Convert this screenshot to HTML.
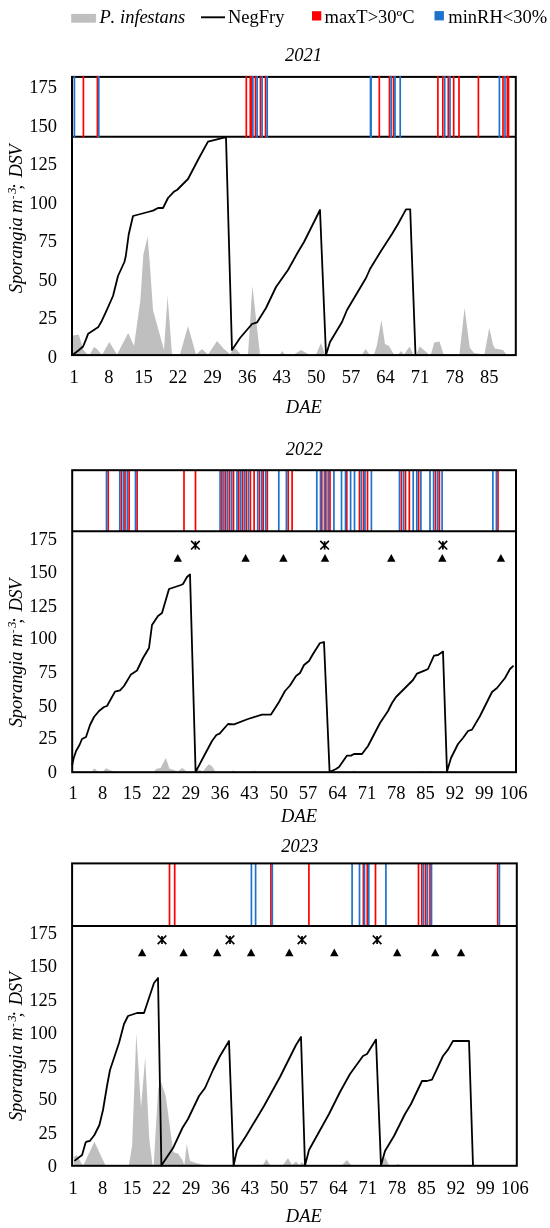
<!DOCTYPE html>
<html><head><meta charset="utf-8"><style>
html,body{margin:0;padding:0;background:#fff;width:550px;height:1228px;overflow:hidden}
svg{display:block}
.ax{font-family:"Liberation Serif", "Times New Roman", serif;font-size:18.5px;fill:#000}
.lg{font-family:"Liberation Serif", "Times New Roman", serif;font-size:18.5px;fill:#000}
.it{font-style:italic}
</style></head><body>
<svg width="550" height="1228" viewBox="0 0 550 1228">
<rect x="71.2" y="13.9" width="24.7" height="8.8" fill="#BFBFBF"/>
<text y="23" class="lg it"><tspan x="99.5">P</tspan><tspan x="110.5">.</tspan><tspan x="120">infe</tspan><tspan x="147.2">stans</tspan></text>
<line x1="201" y1="17.3" x2="225" y2="17.3" stroke="#000" stroke-width="1.9"/>
<text x="228" y="23" class="lg">NegFry</text>
<rect x="312" y="11.2" width="9.3" height="9.3" fill="#FF0000"/>
<text x="324.5" y="23" class="lg">maxT&gt;30ºC</text>
<rect x="434.5" y="11.1" width="9.4" height="9.3" fill="#1E72CD"/>
<text x="448.3" y="23" class="lg">minRH&lt;30%</text>
<polygon points="73.0,355.0 73.0,335.6 78.7,334.5 83.5,350.0 87.0,354.0 90.0,354.0 94.0,347.0 97.0,349.0 102.0,355.0 109.3,342.0 117.0,354.4 128.2,333.0 134.0,346.0 140.4,300.0 143.3,255.0 147.6,236.7 149.8,263.6 153.0,310.0 164.0,350.0 167.6,296.0 172.0,354.4 180.0,354.4 188.0,326.0 196.0,354.4 202.0,349.0 208.0,354.4 217.0,341.0 224.0,349.0 230.0,354.0 235.0,348.0 241.0,354.4 248.0,354.4 252.4,286.0 260.0,354.4 280.0,354.4 282.0,351.0 285.0,354.4 294.0,354.4 301.0,350.0 309.0,354.4 316.0,354.4 321.0,343.0 325.0,354.4 362.0,354.4 365.6,349.0 369.6,354.4 374.0,354.4 377.0,345.0 381.4,320.0 385.0,344.0 389.0,346.0 394.0,354.4 398.0,354.4 401.0,351.0 404.0,354.4 409.6,346.6 413.4,354.6 416.5,354.6 419.6,346.2 429.0,354.6 431.0,354.0 434.3,342.4 439.5,341.4 443.7,354.6 459.4,354.6 464.6,308.0 469.8,347.7 474.0,353.0 484.4,354.6 489.3,327.8 492.9,344.5 495.0,348.5 503.0,350.0 506.7,354.7 506.7,355.0" fill="#BFBFBF" stroke="none"/>
<polyline points="72.5,355.0 78.7,350.2 83.1,346.5 86.0,339.3 88.2,333.7 90.4,332.3 98.4,326.9 101.3,321.8 106.4,310.9 113.0,296.0 118.0,276.0 124.4,262.0 125.8,256.0 128.7,234.5 133.0,216.0 148.0,212.0 153.0,210.6 158.0,208.0 163.0,208.0 168.0,198.0 174.0,191.6 177.0,190.0 188.0,179.0 199.0,158.0 208.0,141.6 224.0,137.6 226.0,137.6 232.0,350.0 240.0,338.0 252.0,324.0 257.0,322.4 266.0,308.0 276.0,287.0 288.0,270.0 298.0,252.0 304.0,242.0 320.0,210.0 326.0,355.0 330.0,342.0 342.0,322.0 347.0,310.0 366.0,278.0 370.0,269.0 381.0,251.0 392.0,234.0 398.0,224.0 406.0,209.4 410.2,209.4 415.5,355.0" fill="none" stroke="#000" stroke-width="1.8" stroke-linejoin="round"/>
<rect x="72.0" y="76.9" width="443.8" height="278.2" fill="none" stroke="#000" stroke-width="2"/>
<line x1="72.0" y1="136.7" x2="515.8" y2="136.7" stroke="#000" stroke-width="2"/>
<line x1="83.4" y1="75.9" x2="83.4" y2="137.7" stroke="#FF0000" stroke-width="1.7"/>
<line x1="97.4" y1="75.9" x2="97.4" y2="137.7" stroke="#FF0000" stroke-width="1.7"/>
<line x1="246.3" y1="75.9" x2="246.3" y2="137.7" stroke="#FF0000" stroke-width="1.7"/>
<line x1="250.3" y1="75.9" x2="250.3" y2="137.7" stroke="#FF0000" stroke-width="1.7"/>
<line x1="251.8" y1="75.9" x2="251.8" y2="137.7" stroke="#FF0000" stroke-width="1.7"/>
<line x1="255.5" y1="75.9" x2="255.5" y2="137.7" stroke="#FF0000" stroke-width="1.7"/>
<line x1="260.5" y1="75.9" x2="260.5" y2="137.7" stroke="#FF0000" stroke-width="1.7"/>
<line x1="265.6" y1="75.9" x2="265.6" y2="137.7" stroke="#FF0000" stroke-width="1.7"/>
<line x1="379.3" y1="75.9" x2="379.3" y2="137.7" stroke="#FF0000" stroke-width="1.7"/>
<line x1="389.5" y1="75.9" x2="389.5" y2="137.7" stroke="#FF0000" stroke-width="1.7"/>
<line x1="393.6" y1="75.9" x2="393.6" y2="137.7" stroke="#FF0000" stroke-width="1.7"/>
<line x1="437.9" y1="75.9" x2="437.9" y2="137.7" stroke="#FF0000" stroke-width="1.7"/>
<line x1="442.8" y1="75.9" x2="442.8" y2="137.7" stroke="#FF0000" stroke-width="1.7"/>
<line x1="448.3" y1="75.9" x2="448.3" y2="137.7" stroke="#FF0000" stroke-width="1.7"/>
<line x1="453.7" y1="75.9" x2="453.7" y2="137.7" stroke="#FF0000" stroke-width="1.7"/>
<line x1="459.0" y1="75.9" x2="459.0" y2="137.7" stroke="#FF0000" stroke-width="1.7"/>
<line x1="478.4" y1="75.9" x2="478.4" y2="137.7" stroke="#FF0000" stroke-width="1.7"/>
<line x1="503.0" y1="75.9" x2="503.0" y2="137.7" stroke="#FF0000" stroke-width="1.7"/>
<line x1="507.3" y1="75.9" x2="507.3" y2="137.7" stroke="#FF0000" stroke-width="1.7"/>
<line x1="508.5" y1="75.9" x2="508.5" y2="137.7" stroke="#FF0000" stroke-width="1.7"/>
<line x1="74.4" y1="75.9" x2="74.4" y2="137.7" stroke="#1E72CD" stroke-width="1.7"/>
<line x1="98.8" y1="75.9" x2="98.8" y2="137.7" stroke="#1E72CD" stroke-width="1.7"/>
<line x1="252.9" y1="75.9" x2="252.9" y2="137.7" stroke="#1E72CD" stroke-width="1.7"/>
<line x1="257.1" y1="75.9" x2="257.1" y2="137.7" stroke="#1E72CD" stroke-width="1.7"/>
<line x1="262.1" y1="75.9" x2="262.1" y2="137.7" stroke="#1E72CD" stroke-width="1.7"/>
<line x1="267.2" y1="75.9" x2="267.2" y2="137.7" stroke="#1E72CD" stroke-width="1.7"/>
<line x1="370.8" y1="75.9" x2="370.8" y2="137.7" stroke="#1E72CD" stroke-width="2.3"/>
<line x1="391.2" y1="75.9" x2="391.2" y2="137.7" stroke="#1E72CD" stroke-width="1.7"/>
<line x1="395.0" y1="75.9" x2="395.0" y2="137.7" stroke="#1E72CD" stroke-width="1.7"/>
<line x1="400.2" y1="75.9" x2="400.2" y2="137.7" stroke="#1E72CD" stroke-width="1.7"/>
<line x1="444.7" y1="75.9" x2="444.7" y2="137.7" stroke="#1E72CD" stroke-width="1.7"/>
<line x1="450.0" y1="75.9" x2="450.0" y2="137.7" stroke="#1E72CD" stroke-width="1.7"/>
<line x1="499.4" y1="75.9" x2="499.4" y2="137.7" stroke="#1E72CD" stroke-width="1.7"/>
<line x1="505.0" y1="75.9" x2="505.0" y2="137.7" stroke="#1E72CD" stroke-width="1.7"/>
<text x="57" y="87.0" text-anchor="end" dominant-baseline="central" class="ax">175</text>
<text x="57" y="126.0" text-anchor="end" dominant-baseline="central" class="ax">150</text>
<text x="57" y="164.0" text-anchor="end" dominant-baseline="central" class="ax">125</text>
<text x="57" y="202.8" text-anchor="end" dominant-baseline="central" class="ax">100</text>
<text x="57" y="240.9" text-anchor="end" dominant-baseline="central" class="ax">75</text>
<text x="57" y="279.6" text-anchor="end" dominant-baseline="central" class="ax">50</text>
<text x="57" y="317.6" text-anchor="end" dominant-baseline="central" class="ax">25</text>
<text x="57" y="356.6" text-anchor="end" dominant-baseline="central" class="ax">0</text>
<text x="74.2" y="383.2" text-anchor="middle" class="ax">1</text>
<text x="108.8" y="383.2" text-anchor="middle" class="ax">8</text>
<text x="143.4" y="383.2" text-anchor="middle" class="ax">15</text>
<text x="178.0" y="383.2" text-anchor="middle" class="ax">22</text>
<text x="212.6" y="383.2" text-anchor="middle" class="ax">29</text>
<text x="247.2" y="383.2" text-anchor="middle" class="ax">36</text>
<text x="281.8" y="383.2" text-anchor="middle" class="ax">43</text>
<text x="316.3" y="383.2" text-anchor="middle" class="ax">50</text>
<text x="350.9" y="383.2" text-anchor="middle" class="ax">57</text>
<text x="385.5" y="383.2" text-anchor="middle" class="ax">64</text>
<text x="420.1" y="383.2" text-anchor="middle" class="ax">71</text>
<text x="454.7" y="383.2" text-anchor="middle" class="ax">78</text>
<text x="489.3" y="383.2" text-anchor="middle" class="ax">85</text>
<text x="303.8" y="413.3" text-anchor="middle" class="ax it">DAE</text>
<text x="303.5" y="61.3" text-anchor="middle" class="ax it">2021</text>
<text transform="translate(21.5,293.2) rotate(-90)" class="ax it"><tspan x="0" letter-spacing="-0.15">Sporangia m</tspan><tspan x="94" dy="-6" font-size="11">-</tspan><tspan x="99.5" font-size="12.5">3</tspan><tspan x="103.5" dy="6">;</tspan><tspan x="115.8" letter-spacing="-0.5">DSV</tspan></text>
<polygon points="72.9,772.0 72.9,771.2 91.7,771.5 94.5,768.2 97.5,771.5 103.2,771.5 106.0,768.2 110.6,770.4 115.5,771.5 154.0,771.5 156.4,768.7 160.5,768.0 165.9,758.0 169.5,768.7 172.7,769.5 177.6,771.5 182.2,768.0 186.6,771.5 195.6,771.5 199.0,769.5 203.0,771.5 205.5,768.0 208.7,764.3 212.0,766.3 215.3,771.5 231.0,771.5 233.0,770.4 236.0,771.5 252.0,771.5 254.0,770.6 257.0,771.5 352.0,771.5 354.0,770.6 356.0,771.5 420.0,771.5 422.0,770.8 424.0,771.5 428.0,771.5 430.0,770.8 432.0,771.5 513.0,771.5 513.0,772.0" fill="#BFBFBF" stroke="none"/>
<polyline points="72.2,765.0 73.7,758.0 76.2,750.7 79.5,745.0 82.0,739.0 86.0,737.0 90.0,725.0 94.0,717.0 99.0,711.0 104.0,707.0 107.0,706.0 115.0,691.6 120.0,690.4 124.0,686.0 131.0,674.4 137.0,670.5 143.0,658.0 149.0,648.0 152.0,625.0 158.0,616.0 162.0,613.0 169.0,589.0 181.0,585.0 183.0,584.0 187.0,577.0 190.0,574.4 195.6,772.0 204.0,756.0 212.0,741.0 216.4,735.0 219.6,733.6 228.0,724.0 234.0,724.4 248.0,719.0 262.0,714.6 271.0,714.6 279.0,702.0 285.0,691.0 290.0,685.5 296.0,676.0 300.0,673.0 304.0,665.0 309.0,661.0 313.0,654.0 320.0,643.0 324.0,642.0 329.6,772.0 336.0,769.0 339.0,767.0 347.0,755.6 351.0,755.6 354.0,754.0 362.0,754.0 368.0,746.0 380.0,723.0 388.0,711.0 392.0,703.0 396.0,697.0 405.0,688.0 413.0,680.0 417.0,673.6 425.0,670.4 428.0,669.0 434.0,655.6 438.0,655.0 443.0,651.6 447.0,771.6 451.0,758.0 458.0,744.0 463.0,738.0 468.0,731.0 472.0,729.6 480.0,716.0 486.0,704.0 492.0,692.0 497.0,688.0 505.0,678.0 510.0,669.0 513.6,665.6" fill="none" stroke="#000" stroke-width="1.8" stroke-linejoin="round"/>
<line x1="108.2" y1="470.2" x2="108.2" y2="531.3" stroke="#FF0000" stroke-width="1.7"/>
<line x1="121.4" y1="470.2" x2="121.4" y2="531.3" stroke="#FF0000" stroke-width="1.7"/>
<line x1="125.0" y1="470.2" x2="125.0" y2="531.3" stroke="#FF0000" stroke-width="1.7"/>
<line x1="129.1" y1="470.2" x2="129.1" y2="531.3" stroke="#FF0000" stroke-width="1.7"/>
<line x1="137.1" y1="470.2" x2="137.1" y2="531.3" stroke="#FF0000" stroke-width="1.7"/>
<line x1="184" y1="470.2" x2="184" y2="531.3" stroke="#FF0000" stroke-width="1.7"/>
<line x1="195.5" y1="470.2" x2="195.5" y2="531.3" stroke="#FF0000" stroke-width="1.7"/>
<line x1="221.9" y1="470.2" x2="221.9" y2="531.3" stroke="#FF0000" stroke-width="1.7"/>
<line x1="225.7" y1="470.2" x2="225.7" y2="531.3" stroke="#FF0000" stroke-width="1.7"/>
<line x1="229.6" y1="470.2" x2="229.6" y2="531.3" stroke="#FF0000" stroke-width="1.7"/>
<line x1="233.5" y1="470.2" x2="233.5" y2="531.3" stroke="#FF0000" stroke-width="1.7"/>
<line x1="238.7" y1="470.2" x2="238.7" y2="531.3" stroke="#FF0000" stroke-width="1.7"/>
<line x1="242.5" y1="470.2" x2="242.5" y2="531.3" stroke="#FF0000" stroke-width="1.7"/>
<line x1="246.3" y1="470.2" x2="246.3" y2="531.3" stroke="#FF0000" stroke-width="1.7"/>
<line x1="250.4" y1="470.2" x2="250.4" y2="531.3" stroke="#FF0000" stroke-width="1.7"/>
<line x1="254.1" y1="470.2" x2="254.1" y2="531.3" stroke="#FF0000" stroke-width="1.7"/>
<line x1="259.5" y1="470.2" x2="259.5" y2="531.3" stroke="#FF0000" stroke-width="1.7"/>
<line x1="263.2" y1="470.2" x2="263.2" y2="531.3" stroke="#FF0000" stroke-width="1.7"/>
<line x1="267.3" y1="470.2" x2="267.3" y2="531.3" stroke="#FF0000" stroke-width="1.7"/>
<line x1="288.2" y1="470.2" x2="288.2" y2="531.3" stroke="#FF0000" stroke-width="1.7"/>
<line x1="292.1" y1="470.2" x2="292.1" y2="531.3" stroke="#FF0000" stroke-width="1.7"/>
<line x1="321.8" y1="470.2" x2="321.8" y2="531.3" stroke="#FF0000" stroke-width="1.7"/>
<line x1="325.9" y1="470.2" x2="325.9" y2="531.3" stroke="#FF0000" stroke-width="1.7"/>
<line x1="330.0" y1="470.2" x2="330.0" y2="531.3" stroke="#FF0000" stroke-width="1.7"/>
<line x1="346.8" y1="470.2" x2="346.8" y2="531.3" stroke="#FF0000" stroke-width="1.7"/>
<line x1="359.5" y1="470.2" x2="359.5" y2="531.3" stroke="#FF0000" stroke-width="1.7"/>
<line x1="363.6" y1="470.2" x2="363.6" y2="531.3" stroke="#FF0000" stroke-width="1.7"/>
<line x1="367.5" y1="470.2" x2="367.5" y2="531.3" stroke="#FF0000" stroke-width="1.7"/>
<line x1="401.4" y1="470.2" x2="401.4" y2="531.3" stroke="#FF0000" stroke-width="1.7"/>
<line x1="405.5" y1="470.2" x2="405.5" y2="531.3" stroke="#FF0000" stroke-width="1.7"/>
<line x1="409.3" y1="470.2" x2="409.3" y2="531.3" stroke="#FF0000" stroke-width="1.7"/>
<line x1="418.6" y1="470.2" x2="418.6" y2="531.3" stroke="#FF0000" stroke-width="1.7"/>
<line x1="435.5" y1="470.2" x2="435.5" y2="531.3" stroke="#FF0000" stroke-width="1.7"/>
<line x1="439.4" y1="470.2" x2="439.4" y2="531.3" stroke="#FF0000" stroke-width="1.7"/>
<line x1="498" y1="470.2" x2="498" y2="531.3" stroke="#FF0000" stroke-width="1.7"/>
<line x1="106.5" y1="470.2" x2="106.5" y2="531.3" stroke="#1E72CD" stroke-width="1.7"/>
<line x1="119.8" y1="470.2" x2="119.8" y2="531.3" stroke="#1E72CD" stroke-width="1.7"/>
<line x1="123.5" y1="470.2" x2="123.5" y2="531.3" stroke="#1E72CD" stroke-width="1.7"/>
<line x1="127.3" y1="470.2" x2="127.3" y2="531.3" stroke="#1E72CD" stroke-width="1.7"/>
<line x1="135.5" y1="470.2" x2="135.5" y2="531.3" stroke="#1E72CD" stroke-width="1.7"/>
<line x1="220.1" y1="470.2" x2="220.1" y2="531.3" stroke="#1E72CD" stroke-width="1.7"/>
<line x1="223.9" y1="470.2" x2="223.9" y2="531.3" stroke="#1E72CD" stroke-width="1.7"/>
<line x1="227.7" y1="470.2" x2="227.7" y2="531.3" stroke="#1E72CD" stroke-width="1.7"/>
<line x1="231.7" y1="470.2" x2="231.7" y2="531.3" stroke="#1E72CD" stroke-width="1.7"/>
<line x1="237.0" y1="470.2" x2="237.0" y2="531.3" stroke="#1E72CD" stroke-width="1.7"/>
<line x1="240.6" y1="470.2" x2="240.6" y2="531.3" stroke="#1E72CD" stroke-width="1.7"/>
<line x1="244.4" y1="470.2" x2="244.4" y2="531.3" stroke="#1E72CD" stroke-width="1.7"/>
<line x1="248.4" y1="470.2" x2="248.4" y2="531.3" stroke="#1E72CD" stroke-width="1.7"/>
<line x1="257.7" y1="470.2" x2="257.7" y2="531.3" stroke="#1E72CD" stroke-width="1.7"/>
<line x1="261.8" y1="470.2" x2="261.8" y2="531.3" stroke="#1E72CD" stroke-width="1.7"/>
<line x1="265.7" y1="470.2" x2="265.7" y2="531.3" stroke="#1E72CD" stroke-width="1.7"/>
<line x1="278.8" y1="470.2" x2="278.8" y2="531.3" stroke="#1E72CD" stroke-width="1.7"/>
<line x1="286.4" y1="470.2" x2="286.4" y2="531.3" stroke="#1E72CD" stroke-width="1.7"/>
<line x1="316.8" y1="470.2" x2="316.8" y2="531.3" stroke="#1E72CD" stroke-width="1.7"/>
<line x1="320.5" y1="470.2" x2="320.5" y2="531.3" stroke="#1E72CD" stroke-width="1.7"/>
<line x1="324.4" y1="470.2" x2="324.4" y2="531.3" stroke="#1E72CD" stroke-width="1.7"/>
<line x1="328.2" y1="470.2" x2="328.2" y2="531.3" stroke="#1E72CD" stroke-width="1.7"/>
<line x1="333.9" y1="470.2" x2="333.9" y2="531.3" stroke="#1E72CD" stroke-width="1.7"/>
<line x1="341.5" y1="470.2" x2="341.5" y2="531.3" stroke="#1E72CD" stroke-width="1.7"/>
<line x1="345.5" y1="470.2" x2="345.5" y2="531.3" stroke="#1E72CD" stroke-width="1.7"/>
<line x1="350.6" y1="470.2" x2="350.6" y2="531.3" stroke="#1E72CD" stroke-width="1.7"/>
<line x1="354.5" y1="470.2" x2="354.5" y2="531.3" stroke="#1E72CD" stroke-width="1.7"/>
<line x1="361.4" y1="470.2" x2="361.4" y2="531.3" stroke="#1E72CD" stroke-width="1.7"/>
<line x1="365.0" y1="470.2" x2="365.0" y2="531.3" stroke="#1E72CD" stroke-width="1.7"/>
<line x1="371.4" y1="470.2" x2="371.4" y2="531.3" stroke="#1E72CD" stroke-width="1.7"/>
<line x1="399.5" y1="470.2" x2="399.5" y2="531.3" stroke="#1E72CD" stroke-width="1.7"/>
<line x1="403.6" y1="470.2" x2="403.6" y2="531.3" stroke="#1E72CD" stroke-width="1.7"/>
<line x1="413.2" y1="470.2" x2="413.2" y2="531.3" stroke="#1E72CD" stroke-width="1.7"/>
<line x1="416.8" y1="470.2" x2="416.8" y2="531.3" stroke="#1E72CD" stroke-width="1.7"/>
<line x1="420.9" y1="470.2" x2="420.9" y2="531.3" stroke="#1E72CD" stroke-width="1.7"/>
<line x1="430" y1="470.2" x2="430" y2="531.3" stroke="#1E72CD" stroke-width="1.7"/>
<line x1="433.6" y1="470.2" x2="433.6" y2="531.3" stroke="#1E72CD" stroke-width="1.7"/>
<line x1="437.7" y1="470.2" x2="437.7" y2="531.3" stroke="#1E72CD" stroke-width="1.7"/>
<line x1="442.1" y1="470.2" x2="442.1" y2="531.3" stroke="#1E72CD" stroke-width="1.7"/>
<line x1="492.9" y1="470.2" x2="492.9" y2="531.3" stroke="#1E72CD" stroke-width="1.7"/>
<line x1="496.4" y1="470.2" x2="496.4" y2="531.3" stroke="#1E72CD" stroke-width="1.7"/>
<rect x="72.2" y="470.2" width="443.8" height="302.0" fill="none" stroke="#000" stroke-width="2"/>
<line x1="72.2" y1="531.3" x2="516.0" y2="531.3" stroke="#000" stroke-width="2"/>
<polygon points="177.8,553.9 182.0,561.7 173.6,561.7" fill="#000"/>
<polygon points="245.6,553.9 249.8,561.7 241.4,561.7" fill="#000"/>
<polygon points="283.4,553.9 287.6,561.7 279.2,561.7" fill="#000"/>
<polygon points="325.0,553.9 329.2,561.7 320.8,561.7" fill="#000"/>
<polygon points="391.3,553.9 395.5,561.7 387.1,561.7" fill="#000"/>
<polygon points="442.3,553.9 446.5,561.7 438.1,561.7" fill="#000"/>
<polygon points="500.9,553.9 505.1,561.7 496.7,561.7" fill="#000"/>
<path d="M191.1,540.9L199.7,549.5M199.7,540.9L191.1,549.5M195.4,541.3V549.5" stroke="#000" stroke-width="1.7" fill="none"/>
<path d="M320.3,540.9L328.9,549.5M328.9,540.9L320.3,549.5M324.6,541.3V549.5" stroke="#000" stroke-width="1.7" fill="none"/>
<path d="M438.6,540.9L447.2,549.5M447.2,540.9L438.6,549.5M442.9,541.3V549.5" stroke="#000" stroke-width="1.7" fill="none"/>
<text x="57" y="539.3" text-anchor="end" dominant-baseline="central" class="ax">175</text>
<text x="57" y="571.5" text-anchor="end" dominant-baseline="central" class="ax">150</text>
<text x="57" y="605.5" text-anchor="end" dominant-baseline="central" class="ax">125</text>
<text x="57" y="637.8" text-anchor="end" dominant-baseline="central" class="ax">100</text>
<text x="57" y="672.0" text-anchor="end" dominant-baseline="central" class="ax">75</text>
<text x="57" y="705.7" text-anchor="end" dominant-baseline="central" class="ax">50</text>
<text x="57" y="738.4" text-anchor="end" dominant-baseline="central" class="ax">25</text>
<text x="57" y="772.4" text-anchor="end" dominant-baseline="central" class="ax">0</text>
<text x="73.2" y="798.7" text-anchor="middle" class="ax">1</text>
<text x="102.6" y="798.7" text-anchor="middle" class="ax">8</text>
<text x="131.9" y="798.7" text-anchor="middle" class="ax">15</text>
<text x="161.3" y="798.7" text-anchor="middle" class="ax">22</text>
<text x="190.7" y="798.7" text-anchor="middle" class="ax">29</text>
<text x="220.0" y="798.7" text-anchor="middle" class="ax">36</text>
<text x="249.4" y="798.7" text-anchor="middle" class="ax">43</text>
<text x="278.8" y="798.7" text-anchor="middle" class="ax">50</text>
<text x="308.1" y="798.7" text-anchor="middle" class="ax">57</text>
<text x="337.5" y="798.7" text-anchor="middle" class="ax">64</text>
<text x="366.9" y="798.7" text-anchor="middle" class="ax">71</text>
<text x="396.2" y="798.7" text-anchor="middle" class="ax">78</text>
<text x="425.6" y="798.7" text-anchor="middle" class="ax">85</text>
<text x="455.0" y="798.7" text-anchor="middle" class="ax">92</text>
<text x="484.3" y="798.7" text-anchor="middle" class="ax">99</text>
<text x="513.7" y="798.7" text-anchor="middle" class="ax">106</text>
<text x="299" y="822.1" text-anchor="middle" class="ax it">DAE</text>
<text x="304.2" y="454.8" text-anchor="middle" class="ax it">2022</text>
<text transform="translate(21.5,727.3) rotate(-90)" class="ax it"><tspan x="0" letter-spacing="-0.15">Sporangia m</tspan><tspan x="94" dy="-6" font-size="11">-</tspan><tspan x="99.5" font-size="12.5">3</tspan><tspan x="103.5" dy="6">;</tspan><tspan x="115.8" letter-spacing="-0.5">DSV</tspan></text>
<polygon points="73.9,1166.0 73.9,1156.8 77.1,1155.0 81.6,1164.0 83.5,1165.0 94.4,1141.8 105.3,1165.0 128.9,1165.0 132.1,1146.0 136.3,1033.3 141.0,1107.5 145.2,1057.5 149.3,1139.5 152.5,1165.0 153.7,1165.0 158.2,1088.6 160.7,1081.0 165.8,1096.3 170.9,1134.5 173.5,1152.3 177.9,1153.5 182.4,1160.0 184.3,1165.0 186.8,1144.0 190.0,1161.0 196.0,1163.0 204.0,1165.0 263.0,1165.0 266.4,1159.0 270.0,1165.0 283.0,1165.0 288.0,1158.0 292.0,1165.0 296.0,1161.6 299.0,1165.0 302.0,1162.0 305.0,1165.0 342.0,1165.0 347.0,1160.0 351.0,1165.0 381.0,1165.0 385.0,1157.0 389.0,1165.0 396.0,1165.0 398.0,1164.0 400.0,1165.0 400.0,1166.0" fill="#BFBFBF" stroke="none"/>
<polyline points="74.4,1160.9 82.1,1155.0 85.7,1142.3 87.5,1141.4 89.8,1141.0 94.4,1135.0 99.4,1125.0 103.0,1110.0 107.0,1086.0 110.0,1070.0 114.0,1058.0 119.0,1043.0 124.0,1024.0 128.0,1016.0 137.0,1013.0 144.0,1013.0 149.0,998.0 154.0,983.0 158.0,978.0 161.4,1165.6 173.5,1147.2 182.4,1128.0 188.0,1119.0 199.0,1096.0 205.0,1088.0 213.0,1070.0 220.0,1056.0 229.0,1041.0 233.6,1165.6 237.0,1150.0 246.0,1136.0 264.0,1106.0 280.0,1077.0 296.0,1045.0 301.0,1037.0 305.0,1165.6 309.0,1150.0 329.0,1114.0 340.0,1092.0 350.0,1074.0 363.0,1056.0 367.0,1054.0 376.0,1039.6 381.0,1165.6 385.0,1151.0 394.0,1136.0 405.0,1114.0 411.0,1104.0 422.0,1081.0 427.0,1081.0 432.0,1079.6 443.0,1056.0 448.0,1049.6 453.0,1041.0 469.0,1041.0 473.0,1165.6" fill="none" stroke="#000" stroke-width="1.8" stroke-linejoin="round"/>
<line x1="169.5" y1="863.4" x2="169.5" y2="926.0" stroke="#FF0000" stroke-width="1.7"/>
<line x1="174.7" y1="863.4" x2="174.7" y2="926.0" stroke="#FF0000" stroke-width="1.7"/>
<line x1="270.9" y1="863.4" x2="270.9" y2="926.0" stroke="#FF0000" stroke-width="1.7"/>
<line x1="308.9" y1="863.4" x2="308.9" y2="926.0" stroke="#FF0000" stroke-width="1.7"/>
<line x1="363.4" y1="863.4" x2="363.4" y2="926.0" stroke="#FF0000" stroke-width="1.7"/>
<line x1="367.3" y1="863.4" x2="367.3" y2="926.0" stroke="#FF0000" stroke-width="1.7"/>
<line x1="375.5" y1="863.4" x2="375.5" y2="926.0" stroke="#FF0000" stroke-width="1.7"/>
<line x1="418.5" y1="863.4" x2="418.5" y2="926.0" stroke="#FF0000" stroke-width="1.7"/>
<line x1="421.8" y1="863.4" x2="421.8" y2="926.0" stroke="#FF0000" stroke-width="1.7"/>
<line x1="425.7" y1="863.4" x2="425.7" y2="926.0" stroke="#FF0000" stroke-width="1.7"/>
<line x1="430.0" y1="863.4" x2="430.0" y2="926.0" stroke="#FF0000" stroke-width="1.7"/>
<line x1="497.7" y1="863.4" x2="497.7" y2="926.0" stroke="#FF0000" stroke-width="1.7"/>
<line x1="251.4" y1="863.4" x2="251.4" y2="926.0" stroke="#1E72CD" stroke-width="1.7"/>
<line x1="255.6" y1="863.4" x2="255.6" y2="926.0" stroke="#1E72CD" stroke-width="1.7"/>
<line x1="272.3" y1="863.4" x2="272.3" y2="926.0" stroke="#1E72CD" stroke-width="1.7"/>
<line x1="352.1" y1="863.4" x2="352.1" y2="926.0" stroke="#1E72CD" stroke-width="1.7"/>
<line x1="359.5" y1="863.4" x2="359.5" y2="926.0" stroke="#1E72CD" stroke-width="1.7"/>
<line x1="364.5" y1="863.4" x2="364.5" y2="926.0" stroke="#1E72CD" stroke-width="1.7"/>
<line x1="368.8" y1="863.4" x2="368.8" y2="926.0" stroke="#1E72CD" stroke-width="1.7"/>
<line x1="385.9" y1="863.4" x2="385.9" y2="926.0" stroke="#1E72CD" stroke-width="1.7"/>
<line x1="423.6" y1="863.4" x2="423.6" y2="926.0" stroke="#1E72CD" stroke-width="1.7"/>
<line x1="427.5" y1="863.4" x2="427.5" y2="926.0" stroke="#1E72CD" stroke-width="1.7"/>
<line x1="431.5" y1="863.4" x2="431.5" y2="926.0" stroke="#1E72CD" stroke-width="1.7"/>
<line x1="499.4" y1="863.4" x2="499.4" y2="926.0" stroke="#1E72CD" stroke-width="1.7"/>
<rect x="72.1" y="863.4" width="444.7" height="302.4" fill="none" stroke="#000" stroke-width="2"/>
<line x1="72.1" y1="926.0" x2="516.8" y2="926.0" stroke="#000" stroke-width="2"/>
<polygon points="142.1,948.5 146.3,956.3 137.9,956.3" fill="#000"/>
<polygon points="183.6,948.5 187.8,956.3 179.4,956.3" fill="#000"/>
<polygon points="217.2,948.5 221.4,956.3 213.0,956.3" fill="#000"/>
<polygon points="251.1,948.5 255.3,956.3 246.9,956.3" fill="#000"/>
<polygon points="289.3,948.5 293.5,956.3 285.1,956.3" fill="#000"/>
<polygon points="334.3,948.5 338.5,956.3 330.1,956.3" fill="#000"/>
<polygon points="397.2,948.5 401.4,956.3 393.0,956.3" fill="#000"/>
<polygon points="435.2,948.5 439.4,956.3 431.0,956.3" fill="#000"/>
<polygon points="461.0,948.5 465.2,956.3 456.8,956.3" fill="#000"/>
<path d="M157.7,935.5L166.3,944.1M166.3,935.5L157.7,944.1M162.0,935.9V944.1" stroke="#000" stroke-width="1.7" fill="none"/>
<path d="M225.7,935.5L234.3,944.1M234.3,935.5L225.7,944.1M230.0,935.9V944.1" stroke="#000" stroke-width="1.7" fill="none"/>
<path d="M297.7,935.5L306.3,944.1M306.3,935.5L297.7,944.1M302.0,935.9V944.1" stroke="#000" stroke-width="1.7" fill="none"/>
<path d="M372.8,935.5L381.4,944.1M381.4,935.5L372.8,944.1M377.1,935.9V944.1" stroke="#000" stroke-width="1.7" fill="none"/>
<text x="57" y="932.7" text-anchor="end" dominant-baseline="central" class="ax">175</text>
<text x="57" y="966.3" text-anchor="end" dominant-baseline="central" class="ax">150</text>
<text x="57" y="999.9" text-anchor="end" dominant-baseline="central" class="ax">125</text>
<text x="57" y="1033.0" text-anchor="end" dominant-baseline="central" class="ax">100</text>
<text x="57" y="1066.9" text-anchor="end" dominant-baseline="central" class="ax">75</text>
<text x="57" y="1099.2" text-anchor="end" dominant-baseline="central" class="ax">50</text>
<text x="57" y="1133.0" text-anchor="end" dominant-baseline="central" class="ax">25</text>
<text x="57" y="1165.9" text-anchor="end" dominant-baseline="central" class="ax">0</text>
<text x="73.2" y="1193.7" text-anchor="middle" class="ax">1</text>
<text x="102.6" y="1193.7" text-anchor="middle" class="ax">8</text>
<text x="132.1" y="1193.7" text-anchor="middle" class="ax">15</text>
<text x="161.5" y="1193.7" text-anchor="middle" class="ax">22</text>
<text x="191.0" y="1193.7" text-anchor="middle" class="ax">29</text>
<text x="220.4" y="1193.7" text-anchor="middle" class="ax">36</text>
<text x="249.9" y="1193.7" text-anchor="middle" class="ax">43</text>
<text x="279.3" y="1193.7" text-anchor="middle" class="ax">50</text>
<text x="308.8" y="1193.7" text-anchor="middle" class="ax">57</text>
<text x="338.2" y="1193.7" text-anchor="middle" class="ax">64</text>
<text x="367.7" y="1193.7" text-anchor="middle" class="ax">71</text>
<text x="397.1" y="1193.7" text-anchor="middle" class="ax">78</text>
<text x="426.6" y="1193.7" text-anchor="middle" class="ax">85</text>
<text x="456.0" y="1193.7" text-anchor="middle" class="ax">92</text>
<text x="485.5" y="1193.7" text-anchor="middle" class="ax">99</text>
<text x="514.9" y="1193.7" text-anchor="middle" class="ax">106</text>
<text x="303.8" y="1222.3" text-anchor="middle" class="ax it">DAE</text>
<text x="299.7" y="852.3" text-anchor="middle" class="ax it">2023</text>
<text transform="translate(21.5,1121.0) rotate(-90)" class="ax it"><tspan x="0" letter-spacing="-0.15">Sporangia m</tspan><tspan x="94" dy="-6" font-size="11">-</tspan><tspan x="99.5" font-size="12.5">3</tspan><tspan x="103.5" dy="6">;</tspan><tspan x="115.8" letter-spacing="-0.5">DSV</tspan></text>
</svg>
</body></html>
